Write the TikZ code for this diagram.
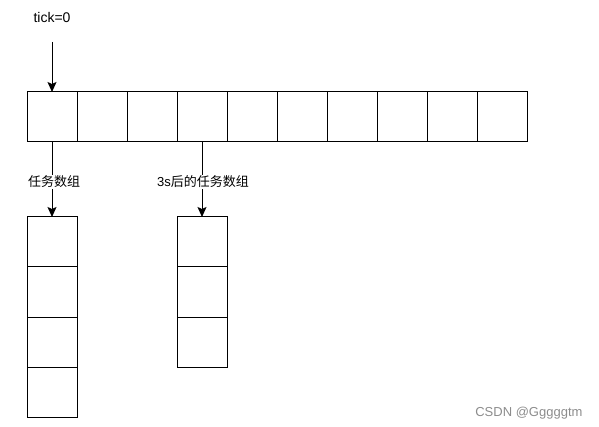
\documentclass[tikz,border=0pt]{standalone}
\usepackage{fontspec}
\usetikzlibrary{arrows.meta}
\setmainfont{Liberation Sans}
\newfontfamily\cjk{Noto Sans CJK SC}
\begin{document}
\begin{tikzpicture}[x=1pt,y=-1pt,
  cell/.style={draw=black, line width=1pt, minimum width=50pt, minimum height=50pt, inner sep=0pt, outer sep=0pt},
  arr/.style={draw=black, line width=1pt, -{Stealth[length=10pt,width=9pt,inset=2pt]}},
  lbl/.style={font=\fontsize{13}{15}\selectfont, fill=white, inner sep=1pt},
  wm/.style={font=\fontsize{13}{15}\selectfont, text=black!45}]
\useasboundingbox (0,0) rectangle (599,427);
\foreach \i in {0,...,9} {
  \node[cell] (t\i) at (52+50*\i,117) {};
}
\foreach \j in {0,...,3} {
  \node[cell] (a\j) at (52,242+50*\j) {};
}
\foreach \j in {0,...,2} {
  \node[cell] (b\j) at (202,242+50*\j) {};
}
\node[font=\fontsize{14}{16}\selectfont] (tick) at (52,18) {tick=0};
\coordinate (ts) at (52,42);
\draw[arr] (ts) -- (t0.north);
\draw[arr] (t0.south) -- (a0.north);
\draw[arr] (t3.south) -- (b0.north);
\node[lbl] (l1) at (54,182) {\cjk 任务数组};
\node[lbl] (l2) at (203,182) {3s{\cjk 后的任务数组}};
\node[wm, anchor=east] (wm) at (586,413) {CSDN @Gggggtm};
\end{tikzpicture}
\end{document}
